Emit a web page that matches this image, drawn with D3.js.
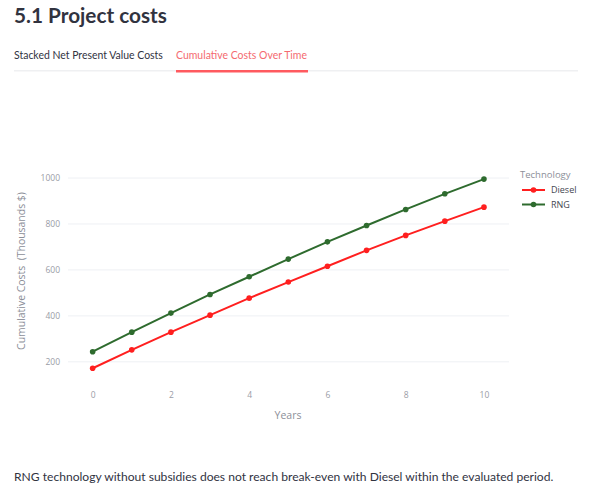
<!DOCTYPE html>
<html><head><meta charset="utf-8">
<script src="https://cdn.jsdelivr.net/npm/d3@7/dist/d3.min.js"></script>
<style>html,body{margin:0;padding:0;background:#fff;overflow:hidden}</style>
</head><body>
<svg id="c" width="600" height="500"></svg>
<script>
const years = [0,1,2,3,4,5,6,7,8,9,10];
const diesel = [170,250,327,401,475,545,614,683,748,810,871];
const rng = [242,327,410,491,568,645,720,791,861,929,993];
const seriesNames = ["Diesel","RNG"];
const seriesColors = ["#ff1f1f","#2e6b2e"];
const xTicks = [0,2,4,6,8,10];
const yTicks = [200,400,600,800,1000];

const svg = d3.select("#c");
const txtDark = "#31333f";
const sans = "'Open Sans', 'Noto Sans', sans-serif";
const ui = "Lato, 'Noto Sans', sans-serif";

function fit(sel, w){
  const n = sel.node(); const fs = parseFloat(sel.attr("font-size"));
  const cur = n.getComputedTextLength();
  sel.attr("font-size", (fs*w/cur).toFixed(2));
  return sel;
}

// header
fit(svg.append("text").attr("x",14).attr("y",23).attr("font-family",ui).attr("font-weight",700)
  .attr("font-size",22).attr("fill",txtDark).text("5.1 Project costs"),153);
fit(svg.append("text").attr("x",14).attr("y",59).attr("font-family",ui)
  .attr("font-size",13).attr("fill",txtDark).text("Stacked Net Present Value Costs"),149);
fit(svg.append("text").attr("x",176).attr("y",59).attr("font-family",ui)
  .attr("font-size",13).attr("fill","#f46a70").text("Cumulative Costs Over Time"),131);
svg.append("rect").attr("x",14).attr("y",70).attr("width",564).attr("height",1.5).attr("fill","#eff0f2");
svg.append("rect").attr("x",176).attr("y",70).attr("width",132).attr("height",2.5).attr("fill","#ff5a5f");

// chart
const x = d3.scaleLinear().domain([-0.63,10.64]).range([68,509]);
const y = d3.scaleLinear().domain([0,1000]).range([407.3,177.5]);

const gy = svg.append("g").attr("transform","translate(68,0)")
  .call(d3.axisLeft(y).tickValues(yTicks).tickSize(-441).tickPadding(8).tickFormat(d3.format("d")));
gy.select(".domain").remove();
gy.selectAll("line").attr("stroke","#eef0f4").attr("stroke-width",1);
gy.selectAll("text").attr("font-family",sans).attr("font-size",8.5).attr("fill","#9a9ca6");

const gx = svg.append("g").attr("transform","translate(0,388)")
  .call(d3.axisBottom(x).tickValues(xTicks).tickSize(0).tickPadding(4));
gx.select(".domain").remove();
gx.selectAll("text").attr("font-family",sans).attr("font-size",8.5).attr("fill","#9a9ca6");

svg.append("text").attr("x",288).attr("y",419).attr("text-anchor","middle")
  .attr("font-family",sans).attr("font-size",10.5).attr("fill","#8c8f99").text("Years");
const yt = svg.append("text").attr("transform","translate(25,271) rotate(-90)").attr("text-anchor","middle")
  .attr("font-family",sans).attr("font-size",10).attr("fill","#8c8f99")
  .style("white-space","pre").text("Cumulative Costs  (Thousands $)");
fit(yt,158);

const data = [diesel, rng];
const line = d3.line().x((d,i)=>x(years[i])).y(d=>y(d));
data.forEach((s,k)=>{
  svg.append("path").datum(s).attr("d",line).attr("fill","none")
    .attr("stroke",seriesColors[k]).attr("stroke-width",2);
  svg.append("g").selectAll("circle").data(s).join("circle")
    .attr("cx",(d,i)=>x(years[i])).attr("cy",d=>y(d)).attr("r",2.8).attr("fill",seriesColors[k]);
});

// legend
const lg = svg.append("g");
lg.append("text").attr("x",520).attr("y",178).attr("font-family",sans).attr("font-size",9.5)
  .attr("fill","#8c8f99").text("Technology");
seriesNames.forEach((n,k)=>{
  const yy = 190 + k*14.5;
  lg.append("line").attr("x1",522).attr("x2",545).attr("y1",yy).attr("y2",yy)
    .attr("stroke",seriesColors[k]).attr("stroke-width",2);
  lg.append("circle").attr("cx",533.5).attr("cy",yy).attr("r",2.8).attr("fill",seriesColors[k]);
  lg.append("text").attr("x",551).attr("y",yy+3.2).attr("font-family",sans).attr("font-size",9)
    .attr("fill","#44464f").text(n);
});

// caption
fit(svg.append("text").attr("x",14).attr("y",481).attr("font-family",ui)
  .attr("font-size",13).attr("fill",txtDark)
  .text("RNG technology without subsidies does not reach break-even with Diesel within the evaluated period."),540);
</script>
</body></html>
